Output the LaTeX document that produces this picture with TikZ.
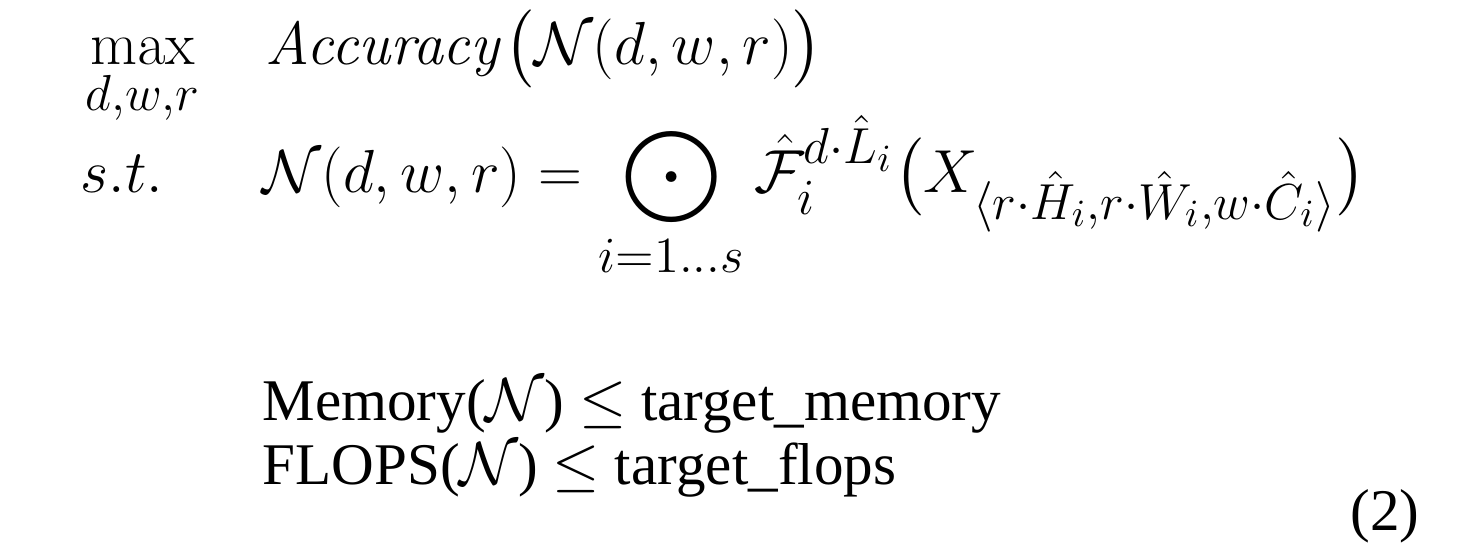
\documentclass[tikz,border=0pt]{standalone}
\usepackage{amsmath,amssymb}
\usepackage[no-math]{fontspec}
\setmainfont{Liberation Serif}
\DeclareMathSizes{18.5}{18.5}{15}{11}
\begin{document}
\begin{tikzpicture}[x=0.01cm,y=-0.01cm,
  eq/.style={anchor=base west,inner sep=0pt,font=\fontsize{18.5}{22}\selectfont},
  tx/.style={anchor=base west,inner sep=0pt,font=\fontsize{16.8}{20}\selectfont}]
\useasboundingbox (0,0) rectangle (1467,545);
\node[eq] (mx) at (85,64) {$\displaystyle\max_{d,w,r}$};
\node[eq] (acc) at (265,64) {$\mathit{Accuracy}\bigl(\mathcal{N}(d,w,r)\bigr)$};
\node[eq] (st) at (80,192) {$s.t.$};
\node[eq] (def) at (262,192) {$\displaystyle\mathcal{N}(d,w,r)=\bigodot_{i=1\dots s}\hat{\mathcal{F}}_i^{d\cdot\hat{L}_i}\bigl(X_{\langle r\cdot\hat{H}_i,r\cdot\hat{W}_i,w\cdot\hat{C}_i\rangle}\bigr)$};
\node[tx] (mem) at (262,420) {Memory($\mathcal{N}$) $\leq$ target\_memory};
\node[tx] (fl) at (262,484) {FLOPS($\mathcal{N}$) $\leq$ target\_flops};
\node[tx,anchor=base east] (num) at (1420,530) {(2)};
\end{tikzpicture}
\end{document}
